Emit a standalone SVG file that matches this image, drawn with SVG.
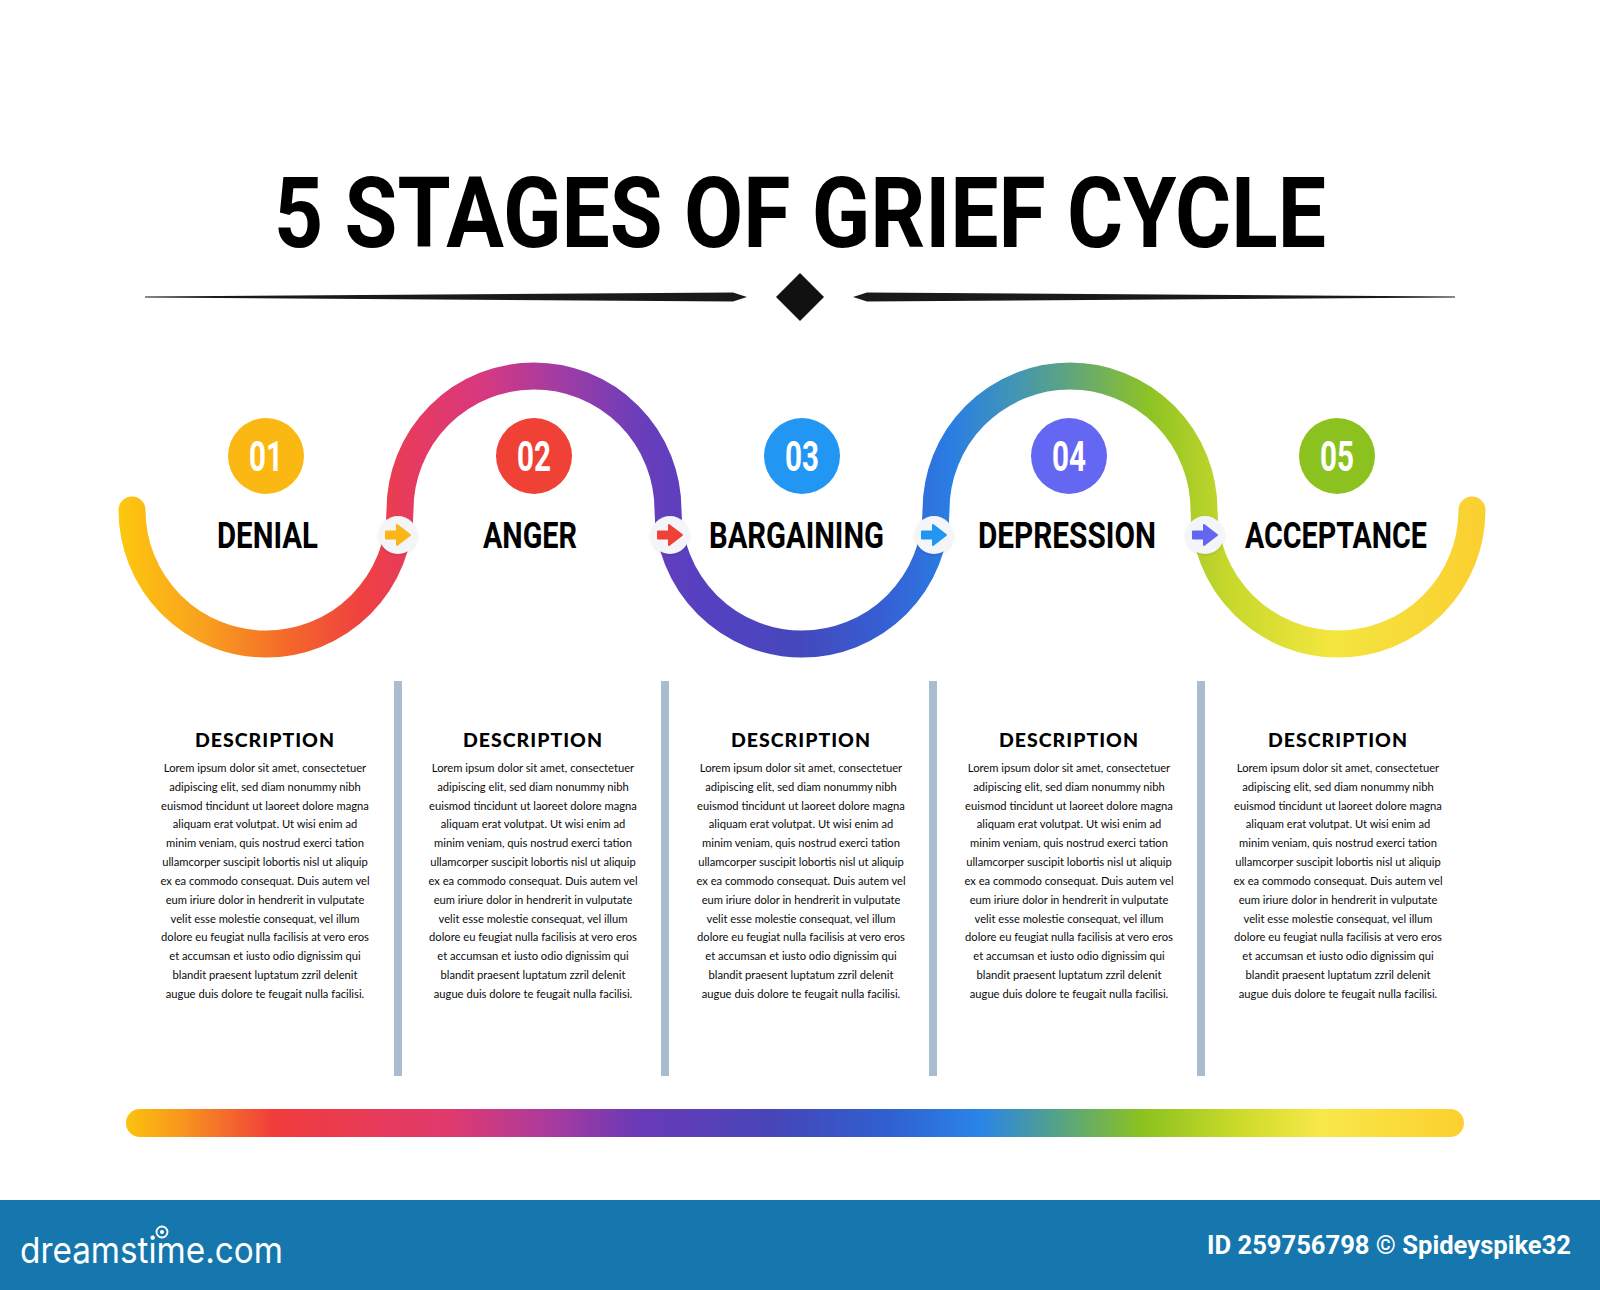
<svg xmlns="http://www.w3.org/2000/svg" width="1600" height="1290" viewBox="0 0 1600 1290">
<style>
.title{font-family:Roboto,"Liberation Sans",sans-serif;font-weight:700;font-size:98px;fill:#000}
.num{font-family:Roboto,"Liberation Sans",sans-serif;font-weight:700;font-size:42px;fill:#fff;text-anchor:middle}
.lbl{font-family:Roboto,"Liberation Sans",sans-serif;font-weight:700;font-size:37px;fill:#000}
.head{font-family:Lato,"Liberation Sans",sans-serif;font-weight:900;font-size:19.5px;letter-spacing:1px;fill:#000;text-anchor:middle}
.body{font-family:Lato,"Liberation Sans",sans-serif;font-weight:400;font-size:11.2px;fill:#0a0a0a;text-anchor:middle}
.sep{fill:#a9bcd0}
.mk{fill:#f4f5f8;filter:url(#sh)}
.foot{font-family:Roboto,"Liberation Sans",sans-serif;font-weight:700;font-size:25px;fill:#fff}
.logo{font-family:Inter,"DejaVu Sans",sans-serif;font-weight:400;font-size:36px;fill:#fff}
</style>
<defs>
<linearGradient id="gw" gradientUnits="userSpaceOnUse" x1="118" y1="0" x2="1486" y2="0">
<stop offset="0" stop-color="#fdc80e"/>
<stop offset="0.06" stop-color="#f9a21e"/>
<stop offset="0.126" stop-color="#f4672a"/>
<stop offset="0.177" stop-color="#ef4140"/>
<stop offset="0.221" stop-color="#e43a64"/>
<stop offset="0.265" stop-color="#d9387f"/>
<stop offset="0.323" stop-color="#a13ca4"/>
<stop offset="0.382" stop-color="#6a3dbb"/>
<stop offset="0.425" stop-color="#5640c0"/>
<stop offset="0.499" stop-color="#4548bd"/>
<stop offset="0.557" stop-color="#365ed2"/>
<stop offset="0.608" stop-color="#2a7de3"/>
<stop offset="0.652" stop-color="#3f94b9"/>
<stop offset="0.696" stop-color="#60a57c"/>
<stop offset="0.754" stop-color="#8ec324"/>
<stop offset="0.813" stop-color="#c8d82c"/>
<stop offset="0.886" stop-color="#f3e63f"/>
<stop offset="1" stop-color="#fbcf30"/>
</linearGradient>
<linearGradient id="gb" gradientUnits="userSpaceOnUse" x1="126" y1="0" x2="1464" y2="0">
<stop offset="0" stop-color="#fcc20f"/>
<stop offset="0.044" stop-color="#f7931e"/>
<stop offset="0.111" stop-color="#f03c3c"/>
<stop offset="0.241" stop-color="#e03a6e"/>
<stop offset="0.31" stop-color="#b03a9a"/>
<stop offset="0.383" stop-color="#6a3ab8"/>
<stop offset="0.485" stop-color="#4646b8"/>
<stop offset="0.569" stop-color="#3060d0"/>
<stop offset="0.638" stop-color="#2a84e8"/>
<stop offset="0.691" stop-color="#50a090"/>
<stop offset="0.76" stop-color="#8cc21f"/>
<stop offset="0.836" stop-color="#cfdc2a"/>
<stop offset="0.893" stop-color="#f8e84a"/>
<stop offset="1" stop-color="#fcd02e"/>
</linearGradient>
<filter id="sh" x="-40%" y="-40%" width="180%" height="180%">
<feDropShadow dx="0" dy="1" stdDeviation="1.5" flood-color="#000" flood-opacity="0.12"/>
</filter>
<path id="arr" d="M-12,-3.5 H-1 V-10 L12,0 L-1,10 V3.5 H-12 Z" stroke-width="2" stroke-linejoin="round"/>
</defs>
<rect width="1600" height="1290" fill="#fff"/>

<g id="header">
<text class="title" x="274" y="247" textLength="1052" lengthAdjust="spacingAndGlyphs">5 STAGES OF GRIEF CYCLE</text>
<path d="M145,296.6 L733,292.5 L747,297 L733,301.5 L145,297.4 Z" fill="#1a1a1a"/>
<path d="M1455,296.6 L867,292.5 L853,297 L867,301.5 L1455,297.4 Z" fill="#1a1a1a"/>
<path d="M800,273 L824,297 L800,321 L776,297 Z" fill="#111"/>
</g>

<g id="connectors">
<path d="M132,510 A134,134 0 0 0 400,510 A134,134 0 0 1 668,510 A134,134 0 0 0 936,510 A134,134 0 0 1 1204,510 A134,134 0 0 0 1472,510" fill="none" stroke="url(#gw)" stroke-width="27" stroke-linecap="round"/>
<g id="link-1-2"><circle class="mk" cx="398" cy="535" r="19"/><use href="#arr" x="398" y="535" fill="#fbb516" stroke="#fbb516"/></g>
<g id="link-2-3"><circle class="mk" cx="670" cy="535" r="19"/><use href="#arr" x="670" y="535" fill="#ef4136" stroke="#ef4136"/></g>
<g id="link-3-4"><circle class="mk" cx="934" cy="535" r="19"/><use href="#arr" x="934" y="535" fill="#2196f3" stroke="#2196f3"/></g>
<g id="link-4-5"><circle class="mk" cx="1205" cy="535" r="19"/><use href="#arr" x="1205" y="535" fill="#6366f1" stroke="#6366f1"/></g>
</g>

<g id="separators">
<rect class="sep" x="394" y="681" width="8" height="395"/>
<rect class="sep" x="661" y="681" width="8" height="395"/>
<rect class="sep" x="929" y="681" width="8" height="395"/>
<rect class="sep" x="1197" y="681" width="8" height="395"/>
</g>

<g id="stage-1">
<circle cx="266" cy="456" r="38" fill="#fbb813"/>
<text class="num" x="266" y="471" textLength="34" lengthAdjust="spacingAndGlyphs">01</text>
<text class="lbl" x="217" y="548" textLength="101" lengthAdjust="spacingAndGlyphs">DENIAL</text>
<text class="head" x="265" y="747">DESCRIPTION</text>
<text class="body" y="772"><tspan x="265">Lorem ipsum dolor sit amet, consectetuer</tspan><tspan x="265" dy="18.83">adipiscing elit, sed diam nonummy nibh</tspan><tspan x="265" dy="18.83">euismod tincidunt ut laoreet dolore magna</tspan><tspan x="265" dy="18.83">aliquam erat volutpat. Ut wisi enim ad</tspan><tspan x="265" dy="18.83">minim veniam, quis nostrud exerci tation</tspan><tspan x="265" dy="18.83">ullamcorper suscipit lobortis nisl ut aliquip</tspan><tspan x="265" dy="18.83">ex ea commodo consequat. Duis autem vel</tspan><tspan x="265" dy="18.83">eum iriure dolor in hendrerit in vulputate</tspan><tspan x="265" dy="18.83">velit esse molestie consequat, vel illum</tspan><tspan x="265" dy="18.83">dolore eu feugiat nulla facilisis at vero eros</tspan><tspan x="265" dy="18.83">et accumsan et iusto odio dignissim qui</tspan><tspan x="265" dy="18.83">blandit praesent luptatum zzril delenit</tspan><tspan x="265" dy="18.83">augue duis dolore te feugait nulla facilisi.</tspan></text>
</g>

<g id="stage-2">
<circle cx="534" cy="456" r="38" fill="#ef4136"/>
<text class="num" x="534" y="471" textLength="34" lengthAdjust="spacingAndGlyphs">02</text>
<text class="lbl" x="483" y="548" textLength="94" lengthAdjust="spacingAndGlyphs">ANGER</text>
<text class="head" x="533" y="747">DESCRIPTION</text>
<text class="body" y="772"><tspan x="533">Lorem ipsum dolor sit amet, consectetuer</tspan><tspan x="533" dy="18.83">adipiscing elit, sed diam nonummy nibh</tspan><tspan x="533" dy="18.83">euismod tincidunt ut laoreet dolore magna</tspan><tspan x="533" dy="18.83">aliquam erat volutpat. Ut wisi enim ad</tspan><tspan x="533" dy="18.83">minim veniam, quis nostrud exerci tation</tspan><tspan x="533" dy="18.83">ullamcorper suscipit lobortis nisl ut aliquip</tspan><tspan x="533" dy="18.83">ex ea commodo consequat. Duis autem vel</tspan><tspan x="533" dy="18.83">eum iriure dolor in hendrerit in vulputate</tspan><tspan x="533" dy="18.83">velit esse molestie consequat, vel illum</tspan><tspan x="533" dy="18.83">dolore eu feugiat nulla facilisis at vero eros</tspan><tspan x="533" dy="18.83">et accumsan et iusto odio dignissim qui</tspan><tspan x="533" dy="18.83">blandit praesent luptatum zzril delenit</tspan><tspan x="533" dy="18.83">augue duis dolore te feugait nulla facilisi.</tspan></text>
</g>

<g id="stage-3">
<circle cx="802" cy="456" r="38" fill="#2196f3"/>
<text class="num" x="802" y="471" textLength="34" lengthAdjust="spacingAndGlyphs">03</text>
<text class="lbl" x="709" y="548" textLength="175" lengthAdjust="spacingAndGlyphs">BARGAINING</text>
<text class="head" x="801" y="747">DESCRIPTION</text>
<text class="body" y="772"><tspan x="801">Lorem ipsum dolor sit amet, consectetuer</tspan><tspan x="801" dy="18.83">adipiscing elit, sed diam nonummy nibh</tspan><tspan x="801" dy="18.83">euismod tincidunt ut laoreet dolore magna</tspan><tspan x="801" dy="18.83">aliquam erat volutpat. Ut wisi enim ad</tspan><tspan x="801" dy="18.83">minim veniam, quis nostrud exerci tation</tspan><tspan x="801" dy="18.83">ullamcorper suscipit lobortis nisl ut aliquip</tspan><tspan x="801" dy="18.83">ex ea commodo consequat. Duis autem vel</tspan><tspan x="801" dy="18.83">eum iriure dolor in hendrerit in vulputate</tspan><tspan x="801" dy="18.83">velit esse molestie consequat, vel illum</tspan><tspan x="801" dy="18.83">dolore eu feugiat nulla facilisis at vero eros</tspan><tspan x="801" dy="18.83">et accumsan et iusto odio dignissim qui</tspan><tspan x="801" dy="18.83">blandit praesent luptatum zzril delenit</tspan><tspan x="801" dy="18.83">augue duis dolore te feugait nulla facilisi.</tspan></text>
</g>

<g id="stage-4">
<circle cx="1069" cy="456" r="38" fill="#6467f2"/>
<text class="num" x="1069" y="471" textLength="34" lengthAdjust="spacingAndGlyphs">04</text>
<text class="lbl" x="978" y="548" textLength="178" lengthAdjust="spacingAndGlyphs">DEPRESSION</text>
<text class="head" x="1069" y="747">DESCRIPTION</text>
<text class="body" y="772"><tspan x="1069">Lorem ipsum dolor sit amet, consectetuer</tspan><tspan x="1069" dy="18.83">adipiscing elit, sed diam nonummy nibh</tspan><tspan x="1069" dy="18.83">euismod tincidunt ut laoreet dolore magna</tspan><tspan x="1069" dy="18.83">aliquam erat volutpat. Ut wisi enim ad</tspan><tspan x="1069" dy="18.83">minim veniam, quis nostrud exerci tation</tspan><tspan x="1069" dy="18.83">ullamcorper suscipit lobortis nisl ut aliquip</tspan><tspan x="1069" dy="18.83">ex ea commodo consequat. Duis autem vel</tspan><tspan x="1069" dy="18.83">eum iriure dolor in hendrerit in vulputate</tspan><tspan x="1069" dy="18.83">velit esse molestie consequat, vel illum</tspan><tspan x="1069" dy="18.83">dolore eu feugiat nulla facilisis at vero eros</tspan><tspan x="1069" dy="18.83">et accumsan et iusto odio dignissim qui</tspan><tspan x="1069" dy="18.83">blandit praesent luptatum zzril delenit</tspan><tspan x="1069" dy="18.83">augue duis dolore te feugait nulla facilisi.</tspan></text>
</g>

<g id="stage-5">
<circle cx="1337" cy="456" r="38" fill="#8cc21f"/>
<text class="num" x="1337" y="471" textLength="34" lengthAdjust="spacingAndGlyphs">05</text>
<text class="lbl" x="1245" y="548" textLength="182" lengthAdjust="spacingAndGlyphs">ACCEPTANCE</text>
<text class="head" x="1338" y="747">DESCRIPTION</text>
<text class="body" y="772"><tspan x="1338">Lorem ipsum dolor sit amet, consectetuer</tspan><tspan x="1338" dy="18.83">adipiscing elit, sed diam nonummy nibh</tspan><tspan x="1338" dy="18.83">euismod tincidunt ut laoreet dolore magna</tspan><tspan x="1338" dy="18.83">aliquam erat volutpat. Ut wisi enim ad</tspan><tspan x="1338" dy="18.83">minim veniam, quis nostrud exerci tation</tspan><tspan x="1338" dy="18.83">ullamcorper suscipit lobortis nisl ut aliquip</tspan><tspan x="1338" dy="18.83">ex ea commodo consequat. Duis autem vel</tspan><tspan x="1338" dy="18.83">eum iriure dolor in hendrerit in vulputate</tspan><tspan x="1338" dy="18.83">velit esse molestie consequat, vel illum</tspan><tspan x="1338" dy="18.83">dolore eu feugiat nulla facilisis at vero eros</tspan><tspan x="1338" dy="18.83">et accumsan et iusto odio dignissim qui</tspan><tspan x="1338" dy="18.83">blandit praesent luptatum zzril delenit</tspan><tspan x="1338" dy="18.83">augue duis dolore te feugait nulla facilisi.</tspan></text>
</g>

<g id="bottom-bar">
<rect x="126" y="1109" width="1338" height="28" rx="14" fill="url(#gb)"/>
</g>

<g id="footer">
<rect x="0" y="1200" width="1600" height="90" fill="#1577ae"/>
<text class="logo" x="20" y="1263" textLength="263" lengthAdjust="spacingAndGlyphs">dreamstime.com</text>
<circle cx="162" cy="1232" r="5.5" fill="none" stroke="#fff" stroke-width="1.8"/>
<circle cx="162" cy="1232" r="2" fill="#fff"/>
<text class="foot" x="1571" y="1254" text-anchor="end" textLength="364" lengthAdjust="spacingAndGlyphs">ID 259756798 © Spideyspike32</text>
</g>
</svg>
